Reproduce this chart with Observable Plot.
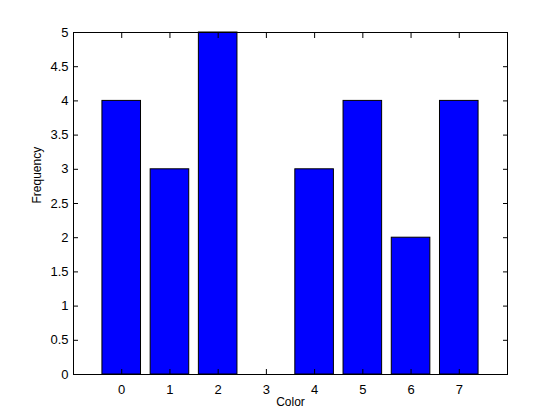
<!DOCTYPE html>
<html>
<head>
<meta charset="utf-8">
<script src="https://cdn.jsdelivr.net/npm/d3@7"></script>
<script src="https://cdn.jsdelivr.net/npm/@observablehq/plot@0.6"></script>
<style>
  html, body { margin: 0; padding: 0; background: #ffffff; }
  #chart svg { display: block; }
</style>
</head>
<body>
<div id="chart"></div>
<script>
const colors = [0, 1, 2, 3, 4, 5, 6, 7];
const frequency = [4, 3, 5, 0, 3, 4, 2, 4];
const yTicks = [0, 0.5, 1, 1.5, 2, 2.5, 3, 3.5, 4, 4.5, 5];
const xTicks = [0, 1, 2, 3, 4, 5, 6, 7];

const data = colors.map((c, i) => ({color: c, freq: frequency[i]}));
const barHalf = 0.4;

const chart = Plot.plot({
  width: 560,
  height: 420,
  marginLeft: 73,
  marginRight: 53,
  marginTop: 32,
  marginBottom: 46,
  style: {fontFamily: "Liberation Sans, Arial, sans-serif", fontSize: "12px", background: "#ffffff", color: "#000"},
  x: {domain: [-1, 8]},
  y: {domain: [0, 5]},
  marks: [
    Plot.rectY(data.filter(d => d.freq > 0), {x1: d => d.color - barHalf, x2: d => d.color + barHalf, y1: 0, y2: "freq", fill: "#0000ff", stroke: "#000000", strokeWidth: 1}),
    Plot.frame({stroke: "#000", strokeWidth: 1}),
    Plot.axisY({anchor: "left", ticks: yTicks, tickSize: -5, tickPadding: 10, tickFormat: d => String(d), label: null, fontSize: 13}),
    Plot.axisY({anchor: "right", ticks: yTicks, tickSize: -5, tickFormat: () => "", label: null}),
    Plot.axisX({anchor: "bottom", ticks: xTicks, tickSize: -5, tickPadding: 15, tickFormat: d => String(d), label: null, fontSize: 13}),
    Plot.axisX({anchor: "top", ticks: xTicks, tickSize: -5, tickFormat: () => "", label: null}),
    Plot.text(["Frequency"], {frameAnchor: "left", dx: -36, rotate: -90, fontSize: 12}),
    Plot.text(["Color"], {frameAnchor: "bottom", dy: 31, fontSize: 12})
  ]
});
document.getElementById("chart").appendChild(chart);
</script>
</body>
</html>
